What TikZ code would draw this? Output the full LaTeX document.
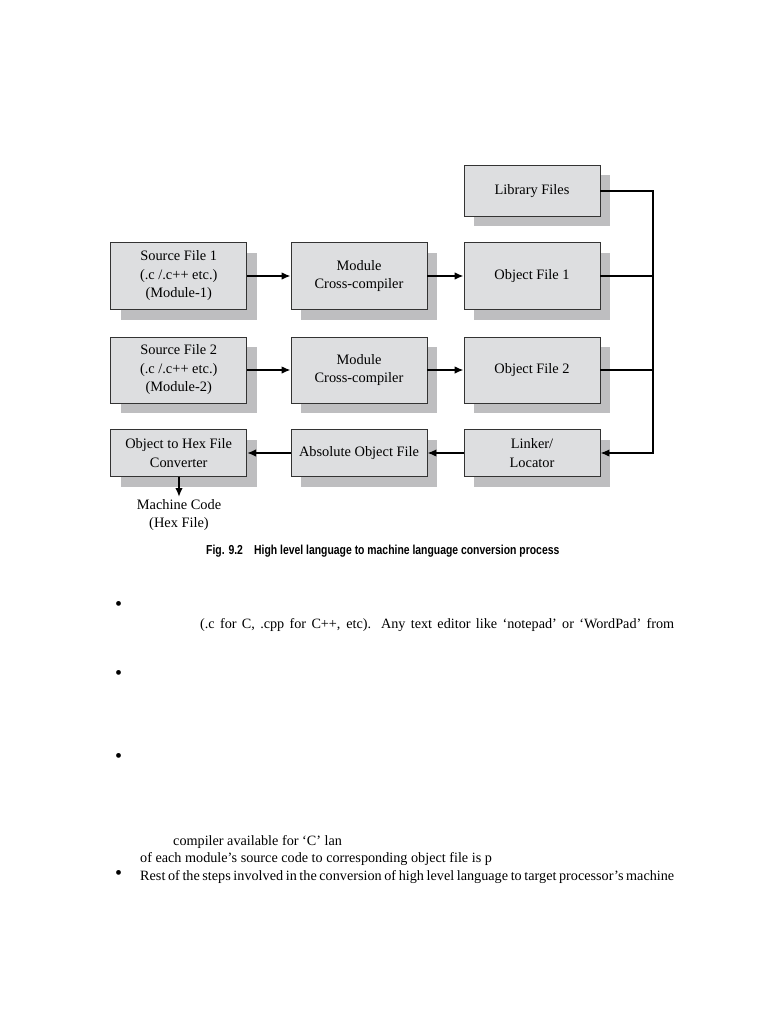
\documentclass[tikz,border=0pt]{standalone}
\usepackage{fontspec}
\setmainfont{Liberation Serif}
\newfontfamily\capfont[FakeStretch=0.8]{Liberation Sans}
\usetikzlibrary{arrows.meta,shadows}
\definecolor{boxgray}{RGB}{221,222,224}
\definecolor{shadowgray}{RGB}{190,190,192}
\newcommand{\boxfont}{\fontsize{14.4}{18.5}\selectfont}
\newcommand{\bodyfont}{\fontsize{14.2}{17}\selectfont}
\newcommand{\capsize}{\capfont\bfseries\fontsize{13}{15}\selectfont}
\tikzset{blk/.style={draw=black!80, line width=.7pt, fill=boxgray,
  minimum width=136pt, inner sep=0pt, align=center, font=\boxfont,
  drop shadow={shadow xshift=10pt, shadow yshift=-10pt, fill=shadowgray, opacity=1}}}
\tikzset{flow/.style={line width=2pt, -{Latex[length=9pt,width=7.5pt]}}}
\tikzset{bus/.style={line width=2pt}}
\tikzset{para/.style={anchor=base west, inner sep=0pt, font=\bodyfont}}
\tikzset{dot/.style={inner sep=0pt, font=\fontsize{20}{20}\selectfont}}

\begin{document}
\begin{tikzpicture}[x=1pt, y=-1pt]

\fill[white] (0,0) rectangle (768,1024);
\useasboundingbox (0,0) rectangle (768,1024);

\node[blk, minimum height=51pt] (lib) at (532,191) {Library Files};

\node[blk, minimum height=67pt] (src1) at (178.7,276) {Source File 1\\(.c /.c++ etc.)\\(Module-1)};
\node[blk, minimum height=67pt] (cc1) at (359,276) {Module\\Cross-compiler};
\node[blk, minimum height=67pt] (obj1) at (532,276) {Object File 1};

\node[blk, minimum height=66pt] (src2) at (178.7,370) {Source File 2\\(.c /.c++ etc.)\\(Module-2)};
\node[blk, minimum height=66pt] (cc2) at (359,370) {Module\\Cross-compiler};
\node[blk, minimum height=66pt] (obj2) at (532,370) {Object File 2};

\node[blk, minimum height=47pt] (hex) at (178.7,453) {Object to Hex File\\Converter};
\node[blk, minimum height=47pt] (abs) at (359,453) {Absolute Object File};
\node[blk, minimum height=47pt] (link) at (532,453) {Linker/\\Locator};

\node[align=center, font=\boxfont, inner sep=2pt] (mc) at (179,515) {Machine Code\\(Hex File)};

\coordinate (bustop) at (653,191);
\coordinate (busbot) at (653,453);

\draw[flow] (src1) -- (cc1);
\draw[flow] (cc1) -- (obj1);
\draw[flow] (src2) -- (cc2);
\draw[flow] (cc2) -- (obj2);
\draw[flow] (link) -- (abs);
\draw[flow] (abs) -- (hex);
\draw[flow] (hex.south -| mc) -- (mc.north);

\draw[bus] (obj1.east) -- (obj1.east -| bustop);
\draw[bus] (obj2.east) -- (obj2.east -| bustop);
\draw[bus, -{Latex[length=9pt,width=7.5pt]}] (lib.east) -- (bustop) -- (busbot) -- (link.east);

\node[anchor=base west, inner sep=0pt, font=\capsize] (fig) at (206,554) {Fig. 9.2};
\node[anchor=base west, inner sep=0pt, font=\capsize] (cap) at (254,554) {High level language to machine language conversion process};

\node[dot] (b1) at (118.5,606) {\textbullet};
\node[dot] (b2) at (118.5,675) {\textbullet};
\node[dot] (b3) at (118.5,758) {\textbullet};
\node[dot] (b4) at (118.5,875) {\textbullet};

\node[para] (t1) at (200,628) {\makebox[474pt][s]{(.c for C, .cpp for C++, etc). Any text editor like `notepad' or `WordPad' from}};
\node[para] (t2) at (173,845) {compiler available for `C' lan};
\node[para] (t3) at (140,862) {of each module's source code to corresponding object file is p};
\node[para] (t4) at (140,880) {\makebox[534pt][s]{Rest of the steps involved in the conversion of high level language to target processor's machine}};

\end{tikzpicture}
\end{document}
